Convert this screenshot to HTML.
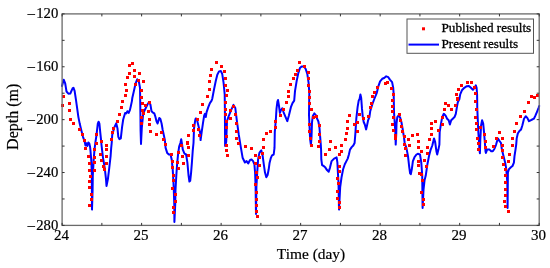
<!DOCTYPE html><html><head><meta charset="utf-8"><style>
html,body{margin:0;padding:0;background:#fff;width:550px;height:268px;overflow:hidden}
svg{display:block}
text{font-family:"Liberation Serif","Times New Roman",serif;fill:#000;stroke:#000;stroke-width:0.2px}
</style></head><body>
<svg width="550" height="268" viewBox="0 0 550 268">
<polyline points="62.0,86.0 63.7,79.7 65.2,83.4 66.5,91.5 68.4,93.7 70.3,93.5 72.7,88.2 73.5,87.8 74.6,90.9 75.9,99.3 77.2,108.6 78.4,117.1 79.7,123.6 81.3,130.2 83.0,136.8 84.6,141.4 85.5,145.5 86.3,143.2 87.3,146.0 88.3,142.5 89.3,143.5 90.1,147.0 90.6,152.0 91.2,159.4 91.8,172.6 91.9,190.0 92.0,209.6 92.6,190.0 92.8,175.8 93.7,159.4 94.5,149.6 95.3,143.0 96.5,135.1 97.8,123.6 98.6,121.7 99.4,123.6 100.2,131.8 101.1,140.1 101.5,145.0 103.0,157.8 104.7,167.6 106.0,179.1 106.5,186.0 107.9,179.1 109.3,167.6 110.6,156.1 111.2,147.9 111.7,143.0 112.2,135.1 114.2,127.7 116.2,123.3 117.5,128.6 118.3,136.8 119.4,139.2 120.8,138.4 122.1,126.9 123.2,119.5 124.0,116.8 125.2,112.9 126.3,113.4 127.4,111.2 128.7,112.9 129.9,110.1 130.8,106.2 131.9,101.1 132.3,98.0 133.9,91.1 135.5,83.7 137.2,79.3 138.8,81.3 140.0,87.8 140.2,100.0 140.4,113.6 140.6,131.0 141.0,144.0 141.8,128.0 143.1,114.6 144.2,111.2 145.9,107.8 148.1,103.4 149.2,102.2 150.4,104.5 151.5,111.2 152.6,112.3 154.3,113.4 155.4,116.8 156.5,121.3 157.6,123.5 159.3,117.9 160.4,119.0 161.6,123.5 162.7,130.0 164.8,139.6 165.6,147.9 167.2,152.9 168.9,154.5 170.5,154.5 171.7,159.4 172.7,169.3 173.3,179.1 173.8,190.0 174.3,205.0 174.4,221.9 175.2,205.0 175.5,190.0 176.3,175.8 177.1,164.3 178.2,152.9 179.2,146.3 180.4,143.0 181.2,139.2 182.0,143.8 182.8,149.6 184.5,153.7 186.1,154.5 187.4,162.7 188.6,175.8 189.4,181.6 190.2,180.8 191.1,172.6 191.9,162.7 192.7,151.2 193.5,143.0 194.0,128.6 195.2,120.3 195.7,118.4 196.8,119.0 198.0,124.0 199.1,128.5 200.2,133.0 200.6,140.1 201.7,131.8 202.9,123.6 204.2,115.4 205.0,113.8 205.8,117.1 206.6,112.1 208.3,107.2 209.9,103.1 211.6,100.6 212.2,99.0 214.0,89.5 215.7,81.3 217.3,74.7 219.0,71.4 220.9,71.1 222.2,73.9 223.6,82.9 224.7,94.4 224.9,110.0 225.1,146.0 226.2,142.0 227.0,121.0 228.8,115.9 230.9,110.7 233.5,104.9 235.3,108.0 236.9,121.1 238.7,134.2 240.8,147.2 242.6,157.7 244.9,162.5 246.6,161.1 248.2,163.5 249.9,160.2 251.5,159.4 253.1,161.1 254.4,164.3 255.1,172.6 255.6,187.0 256.0,214.0 256.4,187.0 257.2,172.6 258.1,159.4 259.4,152.9 260.5,151.2 261.3,150.4 262.7,156.1 263.8,164.3 265.0,172.6 266.3,177.2 267.6,175.0 268.7,169.3 269.6,162.7 270.9,157.8 272.0,155.3 273.7,154.5 274.5,147.9 274.8,131.8 275.8,120.3 276.5,108.9 277.4,101.5 278.0,100.0 279.0,106.0 279.9,112.9 281.0,110.0 282.4,108.2 283.5,112.1 285.6,117.1 287.3,121.2 288.9,115.4 290.9,107.2 292.5,103.1 294.2,100.6 295.0,91.1 296.6,81.3 298.3,73.1 299.9,68.1 301.6,66.5 304.0,66.5 305.7,69.0 307.3,73.9 308.6,82.9 309.3,92.8 309.0,114.9 309.6,128.0 310.1,139.2 310.9,144.8 311.5,137.3 312.0,122.4 312.8,115.9 314.3,113.4 315.7,114.9 317.1,118.7 318.4,121.5 319.5,128.0 320.2,137.3 320.8,144.8 321.1,150.0 321.3,159.4 322.1,165.2 323.7,166.0 325.4,167.6 327.0,170.1 328.7,171.7 330.0,167.6 331.6,161.1 334.1,158.6 336.6,157.4 337.4,162.7 337.9,172.6 338.5,182.4 339.0,209.6 340.2,187.0 341.5,177.5 343.1,169.3 344.8,164.3 346.4,161.1 347.7,158.6 348.9,154.5 350.0,149.6 351.7,147.1 353.3,145.5 354.6,143.0 355.5,131.8 356.3,118.7 357.6,107.2 358.7,100.6 359.6,99.0 360.4,94.4 361.2,98.0 362.0,108.9 362.8,117.1 363.7,122.0 364.8,124.5 366.1,129.4 366.9,126.1 368.1,120.3 369.4,117.1 370.2,111.3 371.9,105.6 373.0,102.3 374.3,99.0 376.8,92.8 378.4,86.2 380.1,81.3 382.2,78.8 384.2,78.0 386.2,76.3 388.3,77.2 389.9,79.6 392.1,82.1 393.2,87.8 393.7,94.4 394.0,112.1 394.9,125.3 395.4,134.3 395.7,144.6 396.2,135.0 396.5,123.6 397.3,117.1 398.6,115.4 400.3,117.9 401.4,122.0 402.6,128.6 403.9,136.8 404.7,143.0 406.4,147.9 408.0,156.1 409.1,166.0 410.1,173.4 410.8,174.2 411.8,169.3 412.9,161.1 414.6,157.0 416.2,154.8 417.8,153.7 420.0,154.5 421.3,162.7 422.2,175.0 422.6,208.0 423.5,190.0 424.6,180.0 425.7,175.8 427.4,164.3 429.0,156.1 430.7,149.6 432.3,145.5 434.0,138.4 435.1,141.7 436.4,151.2 437.2,154.5 438.4,149.6 439.4,144.6 439.7,131.8 441.0,123.6 442.2,117.1 443.8,113.8 445.5,115.4 447.1,118.7 448.7,120.3 449.9,124.5 451.2,120.3 452.8,118.7 454.5,117.1 455.8,113.8 456.9,107.2 457.8,102.3 459.4,99.0 460.2,94.4 461.9,90.3 464.3,87.8 466.8,86.2 468.9,85.9 470.9,87.8 472.9,89.8 474.5,87.8 475.8,85.4 476.6,87.8 477.1,94.4 477.3,108.9 477.8,120.3 478.3,131.8 479.1,143.0 479.4,149.6 479.9,153.2 480.3,140.0 481.1,125.3 482.1,120.3 483.2,123.6 484.0,131.8 484.9,143.0 485.5,151.2 485.9,152.9 487.1,149.6 489.6,149.6 491.2,151.2 492.8,151.2 494.5,148.7 496.1,144.6 497.8,138.4 499.4,140.9 501.0,143.0 501.9,149.6 503.5,156.1 505.2,162.7 506.3,169.3 506.8,175.8 507.3,182.4 507.6,208.0 507.9,172.6 508.9,169.3 510.9,167.3 512.5,166.0 513.9,162.7 514.5,156.1 515.5,149.6 516.2,144.6 516.7,138.4 517.8,133.5 519.4,131.0 521.1,129.4 522.4,125.3 524.0,118.7 525.7,116.2 527.3,117.9 529.0,121.2 530.6,120.3 532.2,119.5 533.9,118.7 535.5,115.4 537.2,111.3 538.5,108.0 539.2,106.0" fill="none" stroke="#0000ff" stroke-width="2" stroke-linejoin="round" stroke-linecap="round"/>
<path d="M62 95h3v3h-3zM61 104h3v3h-3zM68 102h3v3h-3zM68 109h3v3h-3zM69 118h3v3h-3zM72 122h3v3h-3zM78 128h3v3h-3zM81 133h3v3h-3zM83 139h3v3h-3zM84 147h3v3h-3zM87 155h3v3h-3zM88 162h3v3h-3zM88 169h3v3h-3zM89 175h3v3h-3zM88 180h3v3h-3zM88 186h3v3h-3zM90 193h3v3h-3zM90 198h3v3h-3zM88 204h3v3h-3zM93 148h3v3h-3zM93 156h3v3h-3zM93 161h3v3h-3zM93 169h3v3h-3zM95 142h3v3h-3zM95 133h3v3h-3zM100 140h3v3h-3zM99 153h3v3h-3zM100 159h3v3h-3zM102 165h3v3h-3zM103 168h3v3h-3zM105 144h3v3h-3zM105 148h3v3h-3zM105 155h3v3h-3zM105 162h3v3h-3zM110 138h3v3h-3zM111 131h3v3h-3zM112 127h3v3h-3zM116 120h3v3h-3zM118 113h3v3h-3zM120 106h3v3h-3zM121 100h3v3h-3zM124 94h3v3h-3zM125 89h3v3h-3zM124 83h3v3h-3zM126 76h3v3h-3zM128 72h3v3h-3zM128 64h3v3h-3zM131 62h3v3h-3zM133 69h3v3h-3zM133 75h3v3h-3zM138 72h3v3h-3zM137 79h3v3h-3zM142 80h3v3h-3zM134 83h3v3h-3zM140 89h3v3h-3zM140 96h3v3h-3zM141 102h3v3h-3zM144 104h3v3h-3zM148 101h3v3h-3zM141 109h3v3h-3zM142 112h3v3h-3zM140 116h3v3h-3zM147 110h3v3h-3zM148 118h3v3h-3zM148 123h3v3h-3zM140 122h3v3h-3zM149 130h3v3h-3zM155 133h3v3h-3zM160 131h3v3h-3zM162 138h3v3h-3zM164 143h3v3h-3zM170 153h3v3h-3zM171 160h3v3h-3zM171 166h3v3h-3zM172 174h3v3h-3zM172 179h3v3h-3zM171 187h3v3h-3zM174 193h3v3h-3zM174 200h3v3h-3zM172 206h3v3h-3zM172 211h3v3h-3zM176 161h3v3h-3zM177 151h3v3h-3zM177 167h3v3h-3zM180 144h3v3h-3zM181 155h3v3h-3zM182 162h3v3h-3zM186 142h3v3h-3zM187 146h3v3h-3zM187 154h3v3h-3zM186 141h3v3h-3zM187 134h3v3h-3zM192 124h3v3h-3zM192 129h3v3h-3zM197 128h3v3h-3zM198 134h3v3h-3zM196 118h3v3h-3zM199 111h3v3h-3zM201 103h3v3h-3zM206 95h3v3h-3zM208 88h3v3h-3zM208 80h3v3h-3zM209 74h3v3h-3zM210 68h3v3h-3zM215 61h3v3h-3zM220 65h3v3h-3zM223 70h3v3h-3zM224 77h3v3h-3zM224 84h3v3h-3zM226 89h3v3h-3zM225 94h3v3h-3zM224 101h3v3h-3zM224 108h3v3h-3zM224 113h3v3h-3zM232 105h3v3h-3zM229 109h3v3h-3zM229 117h3v3h-3zM225 120h3v3h-3zM234 113h3v3h-3zM235 122h3v3h-3zM225 126h3v3h-3zM235 130h3v3h-3zM225 135h3v3h-3zM235 137h3v3h-3zM225 144h3v3h-3zM225 149h3v3h-3zM226 154h3v3h-3zM237 142h3v3h-3zM244 145h3v3h-3zM250 147h3v3h-3zM254 154h3v3h-3zM254 162h3v3h-3zM255 171h3v3h-3zM256 176h3v3h-3zM254 183h3v3h-3zM255 191h3v3h-3zM255 198h3v3h-3zM255 204h3v3h-3zM255 210h3v3h-3zM256 215h3v3h-3zM258 156h3v3h-3zM258 164h3v3h-3zM261 152h3v3h-3zM262 146h3v3h-3zM262 138h3v3h-3zM265 132h3v3h-3zM269 130h3v3h-3zM274 126h3v3h-3zM274 120h3v3h-3zM279 114h3v3h-3zM282 108h3v3h-3zM285 101h3v3h-3zM287 95h3v3h-3zM287 90h3v3h-3zM289 83h3v3h-3zM292 77h3v3h-3zM294 73h3v3h-3zM296 69h3v3h-3zM298 61h3v3h-3zM303 65h3v3h-3zM307 71h3v3h-3zM307 77h3v3h-3zM307 84h3v3h-3zM308 90h3v3h-3zM308 96h3v3h-3zM308 102h3v3h-3zM310 108h3v3h-3zM312 116h3v3h-3zM315 115h3v3h-3zM308 123h3v3h-3zM318 124h3v3h-3zM308 130h3v3h-3zM318 133h3v3h-3zM309 137h3v3h-3zM318 140h3v3h-3zM310 144h3v3h-3zM317 145h3v3h-3zM324 153h3v3h-3zM328 148h3v3h-3zM328 148h3v3h-3zM334 146h3v3h-3zM340 144h3v3h-3zM340 150h3v3h-3zM338 153h3v3h-3zM338 165h3v3h-3zM338 170h3v3h-3zM336 177h3v3h-3zM337 182h3v3h-3zM336 190h3v3h-3zM336 197h3v3h-3zM338 201h3v3h-3zM338 206h3v3h-3zM329 140h3v3h-3zM344 138h3v3h-3zM345 132h3v3h-3zM346 127h3v3h-3zM346 120h3v3h-3zM348 114h3v3h-3zM353 123h3v3h-3zM356 130h3v3h-3zM356 121h3v3h-3zM358 113h3v3h-3zM362 117h3v3h-3zM367 115h3v3h-3zM369 106h3v3h-3zM370 102h3v3h-3zM371 95h3v3h-3zM373 91h3v3h-3zM376 86h3v3h-3zM384 82h3v3h-3zM386 81h3v3h-3zM390 87h3v3h-3zM392 93h3v3h-3zM391 99h3v3h-3zM391 105h3v3h-3zM391 110h3v3h-3zM392 116h3v3h-3zM391 123h3v3h-3zM392 129h3v3h-3zM394 134h3v3h-3zM394 137h3v3h-3zM398 113h3v3h-3zM399 119h3v3h-3zM400 125h3v3h-3zM401 130h3v3h-3zM403 135h3v3h-3zM407 138h3v3h-3zM411 134h3v3h-3zM416 133h3v3h-3zM417 140h3v3h-3zM403 143h3v3h-3zM404 147h3v3h-3zM404 154h3v3h-3zM408 144h3v3h-3zM417 146h3v3h-3zM417 160h3v3h-3zM417 164h3v3h-3zM418 172h3v3h-3zM420 150h3v3h-3zM423 159h3v3h-3zM425 165h3v3h-3zM420 173h3v3h-3zM421 179h3v3h-3zM426 146h3v3h-3zM426 152h3v3h-3zM420 191h3v3h-3zM422 198h3v3h-3zM422 203h3v3h-3zM428 138h3v3h-3zM430 133h3v3h-3zM430 127h3v3h-3zM430 122h3v3h-3zM434 120h3v3h-3zM437 129h3v3h-3zM441 123h3v3h-3zM441 116h3v3h-3zM443 108h3v3h-3zM444 102h3v3h-3zM447 104h3v3h-3zM450 108h3v3h-3zM454 104h3v3h-3zM456 98h3v3h-3zM456 97h3v3h-3zM455 93h3v3h-3zM457 88h3v3h-3zM460 84h3v3h-3zM466 81h3v3h-3zM470 81h3v3h-3zM473 86h3v3h-3zM474 92h3v3h-3zM474 100h3v3h-3zM475 108h3v3h-3zM474 116h3v3h-3zM475 122h3v3h-3zM475 128h3v3h-3zM476 137h3v3h-3zM479 126h3v3h-3zM483 133h3v3h-3zM484 140h3v3h-3zM477 142h3v3h-3zM477 148h3v3h-3zM484 146h3v3h-3zM492 145h3v3h-3zM495 137h3v3h-3zM498 131h3v3h-3zM501 137h3v3h-3zM501 144h3v3h-3zM501 149h3v3h-3zM501 156h3v3h-3zM502 163h3v3h-3zM504 168h3v3h-3zM504 174h3v3h-3zM504 181h3v3h-3zM504 188h3v3h-3zM504 194h3v3h-3zM503 200h3v3h-3zM504 205h3v3h-3zM507 210h3v3h-3zM508 153h3v3h-3zM507 160h3v3h-3zM511 144h3v3h-3zM511 137h3v3h-3zM513 130h3v3h-3zM515 122h3v3h-3zM519 115h3v3h-3zM523 110h3v3h-3zM527 101h3v3h-3zM530 95h3v3h-3zM533 96h3v3h-3zM536 94h3v3h-3z" fill="#ff0000"/>
<rect x="62.1" y="13.9" width="477.1" height="211.5" fill="none" stroke="#6a6a6a" stroke-width="1.3"/>
<path d="M62.10 225.4v-2.5M62.10 13.9v2.5M101.86 225.4v-2.5M101.86 13.9v2.5M141.62 225.4v-2.5M141.62 13.9v2.5M181.38 225.4v-2.5M181.38 13.9v2.5M221.13 225.4v-2.5M221.13 13.9v2.5M260.89 225.4v-2.5M260.89 13.9v2.5M300.65 225.4v-2.5M300.65 13.9v2.5M340.41 225.4v-2.5M340.41 13.9v2.5M380.17 225.4v-2.5M380.17 13.9v2.5M419.93 225.4v-2.5M419.93 13.9v2.5M459.68 225.4v-2.5M459.68 13.9v2.5M499.44 225.4v-2.5M499.44 13.9v2.5M539.20 225.4v-2.5M539.20 13.9v2.5M62.1 13.90h2.5M539.2 13.90h-2.5M62.1 40.34h2.5M539.2 40.34h-2.5M62.1 66.78h2.5M539.2 66.78h-2.5M62.1 93.21h2.5M539.2 93.21h-2.5M62.1 119.65h2.5M539.2 119.65h-2.5M62.1 146.09h2.5M539.2 146.09h-2.5M62.1 172.53h2.5M539.2 172.53h-2.5M62.1 198.96h2.5M539.2 198.96h-2.5M62.1 225.40h2.5M539.2 225.40h-2.5" stroke="#333" stroke-width="1" fill="none"/>
<text x="58.3" y="18.3" font-size="14.7" text-anchor="end"><tspan font-size="16" dy="1.7">−</tspan><tspan dx="0.6" dy="-1.7">120</tspan></text>
<text x="58.3" y="71.2" font-size="14.7" text-anchor="end"><tspan font-size="16" dy="1.7">−</tspan><tspan dx="0.6" dy="-1.7">160</tspan></text>
<text x="58.3" y="124.1" font-size="14.7" text-anchor="end"><tspan font-size="16" dy="1.7">−</tspan><tspan dx="0.6" dy="-1.7">200</tspan></text>
<text x="58.3" y="176.9" font-size="14.7" text-anchor="end"><tspan font-size="16" dy="1.7">−</tspan><tspan dx="0.6" dy="-1.7">240</tspan></text>
<text x="58.3" y="229.8" font-size="14.7" text-anchor="end"><tspan font-size="16" dy="1.7">−</tspan><tspan dx="0.6" dy="-1.7">280</tspan></text>
<text x="61.5" y="240.2" font-size="15" text-anchor="middle">24</text>
<text x="141.0" y="240.2" font-size="15" text-anchor="middle">25</text>
<text x="220.5" y="240.2" font-size="15" text-anchor="middle">26</text>
<text x="300.1" y="240.2" font-size="15" text-anchor="middle">27</text>
<text x="379.6" y="240.2" font-size="15" text-anchor="middle">28</text>
<text x="459.1" y="240.2" font-size="15" text-anchor="middle">29</text>
<text x="538.6" y="240.2" font-size="15" text-anchor="middle">30</text>
<text x="311" y="259" font-size="15.4" text-anchor="middle">Time (day)</text>
<text transform="translate(18.0,116.8) rotate(-90)" font-size="16" text-anchor="middle">Depth (m)</text>
<rect x="407" y="19" width="126.5" height="34.3" fill="#fff" stroke="#555" stroke-width="1"/>
<rect x="422" y="27.3" width="3" height="3" fill="#ff0000"/>
<line x1="408.5" y1="44.6" x2="439" y2="44.6" stroke="#0000ff" stroke-width="2"/>
<text x="441.5" y="32.3" font-size="13.2" style="stroke-width:0.3px">Published results</text>
<text x="441.5" y="47.9" font-size="13.2" style="stroke-width:0.3px">Present results</text>
</svg></body></html>
